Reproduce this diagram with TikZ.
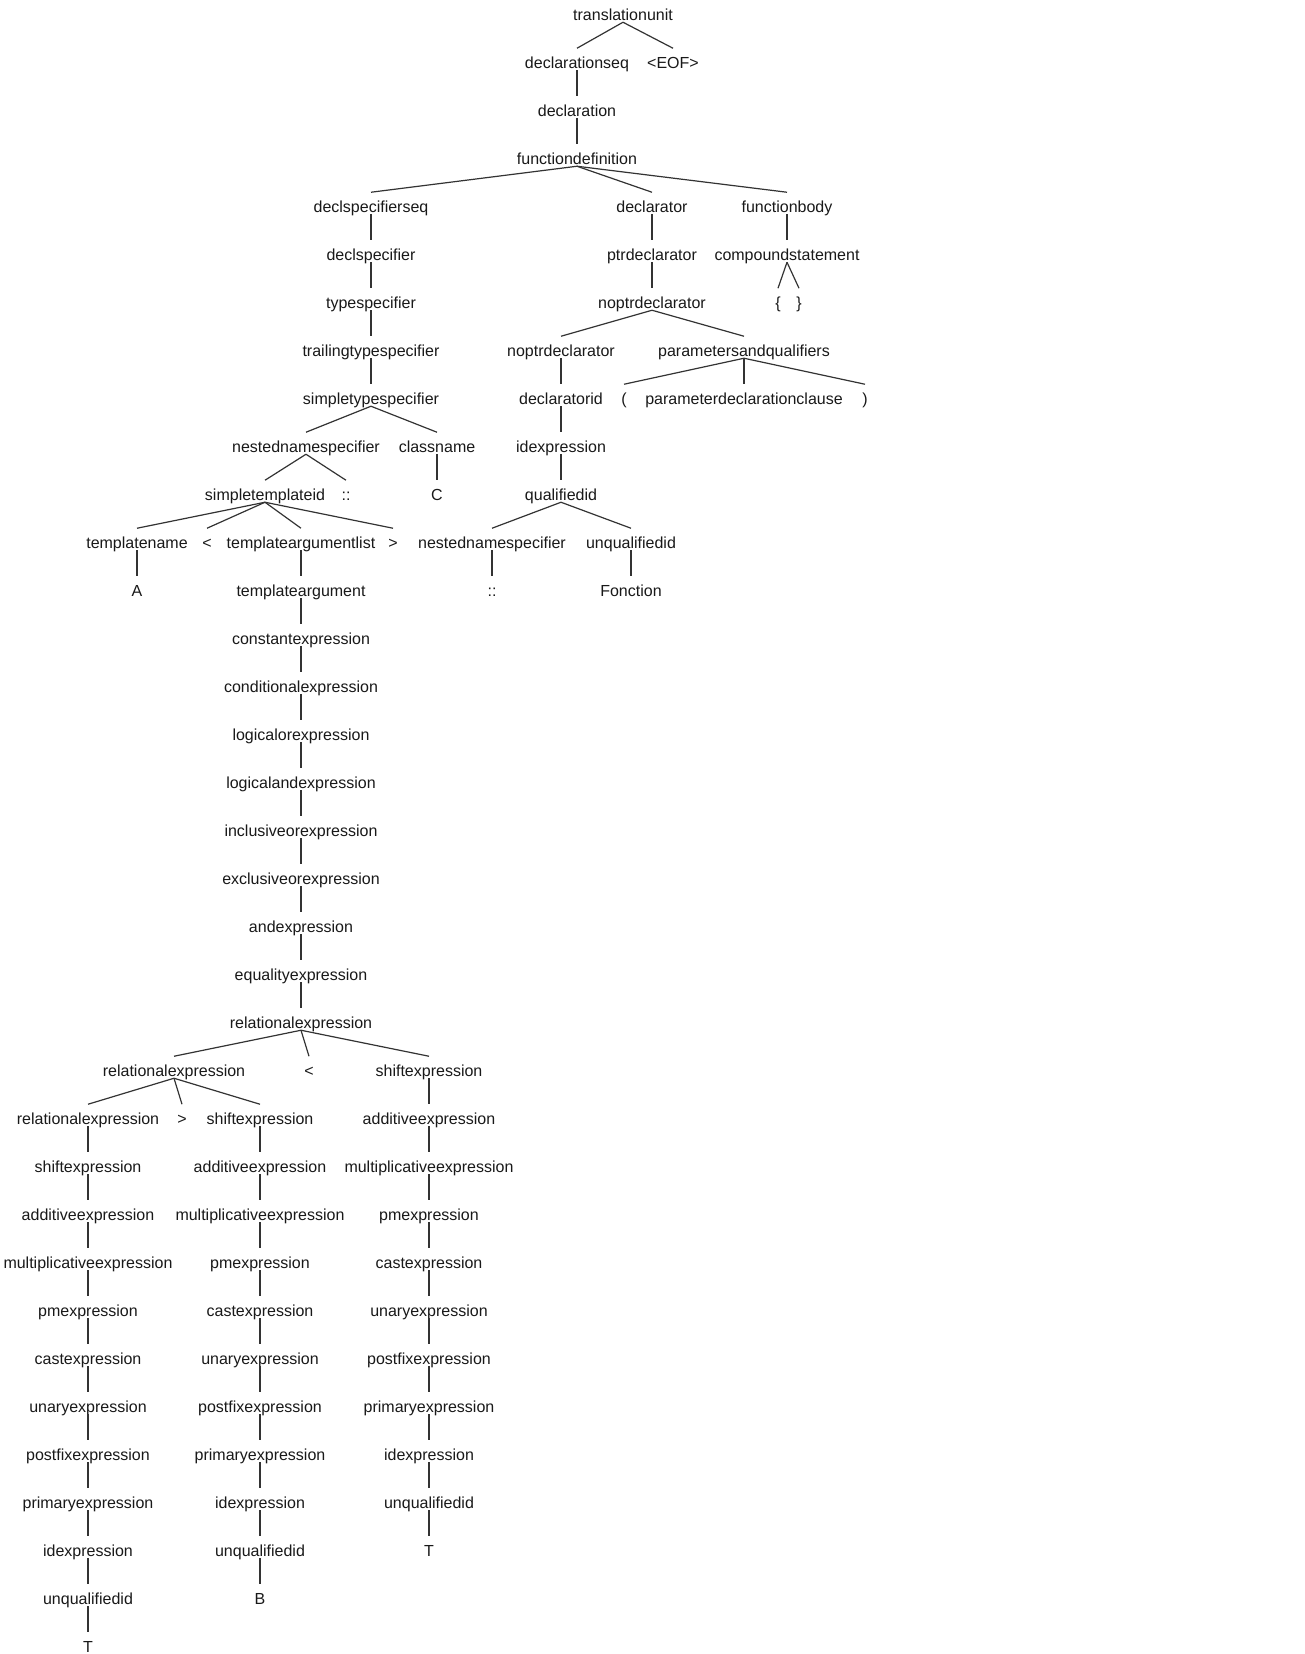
\documentclass[tikz,border=0pt]{standalone}
\usepackage{fontspec}
\setmainfont{Liberation Sans}
\tikzset{
	lbl/.style={anchor=base, inner sep=0pt, text height=15pt, text depth=1.1pt,
		text=black!90, font=\fontsize{12pt}{14pt}\selectfont},
	every edge/.style={draw=black!80, line width=0.9pt}
}
\begin{document}
\begin{tikzpicture}[x=0.75pt, y=-0.75pt]

	\useasboundingbox[fill=white] (0,0) rectangle (1305,1654);

	\node[lbl] (tu) at (623,20.5) {translationunit};
	\node[lbl] (dseq) at (577,68.5) {declarationseq};
	\node[lbl] (eof) at (673,68.5) {<EOF>};
	\node[lbl] (decl) at (577,116.5) {declaration};
	\node[lbl] (fdef) at (577,164.5) {functiondefinition};

	\node[lbl] (dss) at (371,212.5) {declspecifierseq};
	\node[lbl] (dcl) at (652,212.5) {declarator};
	\node[lbl] (fbody) at (787,212.5) {functionbody};
	\node[lbl] (ds) at (371,260.5) {declspecifier};
	\node[lbl] (pdcl) at (652,260.5) {ptrdeclarator};
	\node[lbl] (cst) at (787,260.5) {compoundstatement};
	\node[lbl] (ts) at (371,308.5) {typespecifier};
	\node[lbl] (npd) at (652,308.5) {noptrdeclarator};
	\node[lbl] (lbr) at (778,308.5) {\{};
	\node[lbl] (rbr) at (799,308.5) {\}};
	\node[lbl] (tts) at (371,356.5) {trailingtypespecifier};
	\node[lbl] (npd2) at (561,356.5) {noptrdeclarator};
	\node[lbl] (paq) at (744,356.5) {parametersandqualifiers};
	\node[lbl] (sts) at (371,404.5) {simpletypespecifier};
	\node[lbl] (did) at (561,404.5) {declaratorid};
	\node[lbl] (lpar) at (624,404.5) {(};
	\node[lbl] (pdc) at (744,404.5) {parameterdeclarationclause};
	\node[lbl] (rpar) at (865,404.5) {)};
	\node[lbl] (nns) at (306,452.5) {nestednamespecifier};
	\node[lbl] (cn) at (437,452.5) {classname};
	\node[lbl] (idx) at (561,452.5) {idexpression};
	\node[lbl] (stid) at (265,500.5) {simpletemplateid};
	\node[lbl] (sep) at (346,500.5) {::};
	\node[lbl] (cc) at (437,500.5) {C};
	\node[lbl] (qid) at (561,500.5) {qualifiedid};
	\node[lbl] (tn) at (137,548.5) {templatename};
	\node[lbl] (lt) at (207,548.5) {<};
	\node[lbl] (gt) at (393,548.5) {>};
	\node[lbl] (nns2) at (492,548.5) {nestednamespecifier};
	\node[lbl] (uqid) at (631,548.5) {unqualifiedid};
	\node[lbl] (a) at (137,596.5) {A};
	\node[lbl] (sep2) at (492,596.5) {::};
	\node[lbl] (fon) at (631,596.5) {Fonction};

	\node[lbl] (n22) at (174,1076.5) {relationalexpression};
	\node[lbl] (lt2) at (309,1076.5) {<};
	\node[lbl] (gt2) at (182,1124.5) {>};

	% chains
	\foreach \t [count=\k from 11] in {templateargumentlist, templateargument,
		constantexpression, conditionalexpression, logicalorexpression,
		logicalandexpression, inclusiveorexpression, exclusiveorexpression,
		andexpression, equalityexpression, relationalexpression}
	{
		\node[lbl] (C\k) at (301,{20.5+48*\k}) {\t};
	};
	\foreach \t [count=\k from 23] in {relationalexpression, shiftexpression,
		additiveexpression, multiplicativeexpression, pmexpression,
		castexpression, unaryexpression, postfixexpression,
		primaryexpression, idexpression, unqualifiedid, T}
	{
		\node[lbl] (L\k) at (88,{20.5+48*\k}) {\t};
	};
	\foreach \t [count=\k from 23] in {shiftexpression, additiveexpression,
		multiplicativeexpression, pmexpression, castexpression,
		unaryexpression, postfixexpression, primaryexpression,
		idexpression, unqualifiedid, B}
	{
		\node[lbl] (M\k) at (260,{20.5+48*\k}) {\t};
	};
	\foreach \t [count=\k from 22] in {shiftexpression, additiveexpression,
		multiplicativeexpression, pmexpression, castexpression,
		unaryexpression, postfixexpression, primaryexpression,
		idexpression, unqualifiedid, T}
	{
		\node[lbl] (R\k) at (429,{20.5+48*\k}) {\t};
	};

	\foreach \i / \j in {
	tu/dseq, tu/eof, dseq/decl, decl/fdef,
	fdef/dss, fdef/dcl, fdef/fbody,
	dss/ds, ds/ts, ts/tts, tts/sts,
	sts/nns, sts/cn, nns/stid, nns/sep, cn/cc,
	stid/tn, stid/lt, stid/C11, stid/gt, tn/a,
	dcl/pdcl, pdcl/npd, npd/npd2, npd/paq,
	npd2/did, did/idx, idx/qid, qid/nns2, qid/uqid,
	nns2/sep2, uqid/fon,
	paq/lpar, paq/pdc, paq/rpar,
	fbody/cst, cst/lbr, cst/rbr,
	C21/n22, C21/lt2, C21/R22,
	n22/L23, n22/gt2, n22/M23}
	{
		\path (\i.south) edge (\j.north);
	};
	\foreach \c / \a / \b in {C/12/21, L/24/34, M/24/33, R/23/32}
	{
		\foreach \k [evaluate=\k as \p using int(\k-1)] in {\a,...,\b}
		{
			\path (\c\p.south) edge (\c\k.north);
		};
	};
	\end{tikzpicture}
\end{document}
